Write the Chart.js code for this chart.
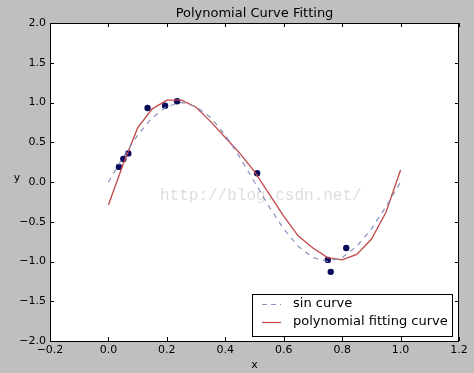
<!DOCTYPE html>
<html>
<head>
<meta charset="utf-8">
<script src="https://cdn.jsdelivr.net/npm/chart.js@4/dist/chart.umd.min.js"></script>
<style>
  html, body { margin: 0; padding: 0; background: #bfbfbf; }
  #wrap { width: 474px; height: 373px; position: relative; }
</style>
</head>
<body>
<div id="wrap"><canvas id="chart"></canvas></div>
<script>
// x positions of the smooth curves
const curveX = [0, 0.05, 0.1, 0.15, 0.2, 0.25, 0.3, 0.35, 0.4, 0.45, 0.5,
                0.55, 0.6, 0.65, 0.7, 0.75, 0.8, 0.85, 0.9, 0.95, 1.0];
// dashed sin curve
const sinY = [0, 0.31, 0.59, 0.81, 0.95, 1.0, 0.95, 0.81, 0.59, 0.31, 0,
              -0.31, -0.59, -0.81, -0.95, -1.0, -0.95, -0.81, -0.59, -0.31, 0];
// red polynomial fitting curve
const polyY = [-0.29, 0.22, 0.68, 0.92, 1.03, 1.03, 0.94, 0.76, 0.56, 0.36, 0.13,
               -0.15, -0.43, -0.68, -0.83, -0.95, -0.98, -0.91, -0.72, -0.38, 0.15];
// noisy sample points
const sampleX = [0.036, 0.051, 0.068, 0.134, 0.194, 0.235, 0.509, 0.751, 0.761, 0.814];
const sampleY = [0.19, 0.29, 0.36, 0.93, 0.96, 1.015, 0.11, -0.98, -1.13, -0.83];

const xTicks = [-0.2, 0, 0.2, 0.4, 0.6, 0.8, 1.0, 1.2];
const yTicks = [-2.0, -1.5, -1.0, -0.5, 0, 0.5, 1.0, 1.5, 2.0];

const FONT = "'DejaVu Sans', sans-serif";
const fmt = v => v.toFixed(1).replace('-', '\u2212');

const toPts = (xs, ys) => xs.map((x, i) => ({ x: x, y: ys[i] }));

// matplotlib-ish frame: gray figure, white axes, inward ticks, title, labels, legend
const decor = {
  id: 'decor',
  beforeDraw(chart) {
    const { ctx, chartArea: a } = chart;
    ctx.save();
    ctx.fillStyle = '#bfbfbf';
    ctx.fillRect(0, 0, chart.width, chart.height);
    ctx.fillStyle = '#ffffff';
    ctx.fillRect(a.left, a.top, a.right - a.left, a.bottom - a.top);
    // watermark
    ctx.fillStyle = '#dedede';
    ctx.font = "16px 'Courier New', 'Liberation Mono', monospace";
    ctx.textAlign = 'left';
    ctx.textBaseline = 'middle';
    ctx.fillText('http://blog.csdn.net/', 160, 196);
    ctx.restore();
  },
  afterDraw(chart) {
    const { ctx, chartArea: a, scales } = chart;
    ctx.save();
    ctx.strokeStyle = '#000';
    ctx.lineWidth = 1;
    ctx.strokeRect(a.left + 0.5, a.top + 0.5, a.right - a.left - 1, a.bottom - a.top);
    ctx.beginPath();
    xTicks.forEach(v => {
      const px = Math.round(scales.x.getPixelForValue(v)) + 0.5;
      ctx.moveTo(px, a.bottom); ctx.lineTo(px, a.bottom - 4);
      ctx.moveTo(px, a.top); ctx.lineTo(px, a.top + 4);
    });
    yTicks.forEach(v => {
      const py = Math.round(scales.y.getPixelForValue(v)) + 0.5;
      ctx.moveTo(a.left, py); ctx.lineTo(a.left + 4, py);
      ctx.moveTo(a.right, py); ctx.lineTo(a.right - 4, py);
    });
    ctx.stroke();

    ctx.fillStyle = '#000';
    ctx.textAlign = 'center';
    ctx.textBaseline = 'middle';
    ctx.font = '13px ' + FONT;
    ctx.fillText('Polynomial Curve Fitting', (a.left + a.right) / 2, 14);
    ctx.font = '11px ' + FONT;
    ctx.fillText('x', (a.left + a.right) / 2, 365);
    ctx.fillText('y', 17, 178);

    // legend
    const lx = 252, ly = 294, lw = 200, lh = 42;
    ctx.fillStyle = '#fff';
    ctx.fillRect(lx, ly, lw, lh);
    ctx.strokeStyle = '#000';
    ctx.strokeRect(lx + 0.5, ly + 0.5, lw, lh);
    ctx.lineWidth = 1.2;
    ctx.strokeStyle = '#8393bd';
    ctx.setLineDash([5, 4]);
    ctx.beginPath(); ctx.moveTo(262, 304.5); ctx.lineTo(281, 304.5); ctx.stroke();
    ctx.setLineDash([]);
    ctx.strokeStyle = '#c0474a';
    ctx.beginPath(); ctx.moveTo(262, 322.5); ctx.lineTo(281, 322.5); ctx.stroke();
    ctx.fillStyle = '#000';
    ctx.textAlign = 'left';
    ctx.font = '13px ' + FONT;
    ctx.fillText('sin curve', 293, 304);
    ctx.fillText('polynomial fitting curve', 293, 322);
    ctx.restore();
  }
};

new Chart(document.getElementById('chart'), {
  type: 'scatter',
  data: {
    datasets: [
      {
        label: 'sin curve',
        data: toPts(curveX, sinY),
        showLine: true,
        borderColor: '#8393bd',
        borderWidth: 1.2,
        borderDash: [5, 5],
        pointRadius: 0,
        tension: 0
      },
      {
        label: 'polynomial fitting curve',
        data: toPts(curveX, polyY),
        showLine: true,
        borderColor: '#c0474a',
        borderWidth: 1.3,
        pointRadius: 0,
        tension: 0
      },
      {
        label: 'samples',
        data: toPts(sampleX, sampleY),
        pointRadius: 3.2,
        backgroundColor: '#0b0b5e',
        borderColor: '#0b0b5e',
        borderWidth: 0
      }
    ]
  },
  options: {
    responsive: true,
    maintainAspectRatio: false,
    animation: false,
    layout: { padding: { top: 23, right: 15, left: 0, bottom: 0 } },
    plugins: { legend: { display: false }, tooltip: { enabled: false } },
    scales: {
      x: {
        type: 'linear',
        min: -0.2, max: 1.2,
        afterBuildTicks: s => { s.ticks = xTicks.map(v => ({ value: v })); },
        afterFit: s => { s.height = 32; },
        grid: { display: false, drawTicks: false },
        border: { display: false },
        ticks: { color: '#000', font: { family: FONT, size: 11 }, padding: 3, callback: v => fmt(v) }
      },
      y: {
        type: 'linear',
        min: -2, max: 2,
        afterBuildTicks: s => { s.ticks = yTicks.map(v => ({ value: v })); },
        afterFit: s => { s.width = 50; },
        grid: { display: false, drawTicks: false },
        border: { display: false },
        ticks: { color: '#000', font: { family: FONT, size: 11 }, padding: 4, callback: v => fmt(v) }
      }
    }
  },
  plugins: [decor]
});
</script>
</body>
</html>
